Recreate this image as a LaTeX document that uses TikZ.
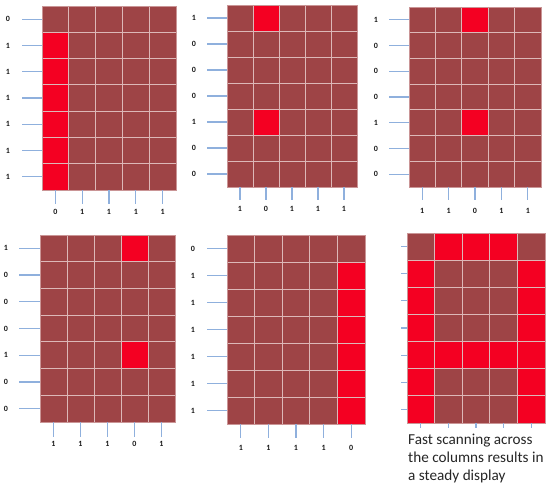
\documentclass[tikz,border=0pt]{standalone}
\usepackage{fontspec}
\setmainfont{Carlito}
\definecolor{dimred}{HTML}{9E4446}
\definecolor{litred}{HTML}{F40022}
\definecolor{gridcol}{HTML}{DDB8B8}
\definecolor{wirecol}{HTML}{8FB0DD}
\tikzset{
  gridline/.style={draw=gridcol, line width=0.9pt},
  wire/.style={draw=wirecol, line width=1.2pt},
  lab/.style={inner sep=0pt, font=\fontsize{8}{9}\selectfont\bfseries, text=black!90},
  caption/.style={inner sep=0pt, anchor=north west, align=left, font=\fontsize{15.2}{18}\selectfont, text=black!85}
}
% #1 L, #2 T, #3 R, #4 B, #5 lit cells col/row
\newcommand{\ledgrid}[5]{%
  \pgfmathsetmacro\cw{(#3-#1)/5}%
  \pgfmathsetmacro\ch{(#4-#2)/7}%
  \fill[dimred] (#1,#2) rectangle (#3,#4);
  \foreach \c/\r in {#5} \fill[litred] ({#1+(\c-1)*\cw},{#2+(\r-1)*\ch}) rectangle ++(\cw,\ch);
  \foreach \i in {1,...,4} \draw[gridline] ({#1+\i*\cw},#2) -- ({#1+\i*\cw},#4);
  \foreach \j in {1,...,6} \draw[gridline] (#1,{#2+\j*\ch}) -- (#3,{#2+\j*\ch});
  \draw[draw=gridcol!70!dimred, line width=0.6pt] (#1,#2) rectangle (#3,#4);
}
% #1 prefix, #2 L, #3 T, #4 B, #5 label x, #6 line start x, #7 labels
\newcommand{\rowlabels}[7]{%
  \pgfmathsetmacro\ch{(#4-#3)/7}%
  \foreach \v [count=\j] in {#7} {
    \coordinate (#1w\j) at (#6,{#3+(\j-0.5)*\ch});
    \coordinate (#1e\j) at (#2,{#3+(\j-0.5)*\ch});
    \draw[wire] (#1w\j) -- (#1e\j);
    \node[lab] (#1r\j) at (#5,{#3+(\j-0.5)*\ch}) {\v};
  }
}
% #1 prefix, #2 L, #3 R, #4 B, #5 tick end y, #6 label y, #7 labels
\newcommand{\collabels}[7]{%
  \pgfmathsetmacro\cw{(#3-#2)/5}%
  \foreach \v [count=\i] in {#7} {
    \coordinate (#1n\i) at ({#2+(\i-0.5)*\cw},#4);
    \coordinate (#1s\i) at ({#2+(\i-0.5)*\cw},#5);
    \draw[wire] (#1n\i) -- (#1s\i);
    \node[lab] (#1c\i) at ({#2+(\i-0.5)*\cw},#6) {\v};
  }
}
\newcommand{\colticks}[5]{%
  \pgfmathsetmacro\cw{(#3-#2)/5}%
  \foreach \i in {1,...,5} {
    \coordinate (#1n\i) at ({#2+(\i-0.5)*\cw},#4);
    \coordinate (#1s\i) at ({#2+(\i-0.5)*\cw},#5);
    \draw[wire] (#1n\i) -- (#1s\i);
  }
}
\newcommand{\rowticks}[5]{%
  \pgfmathsetmacro\ch{(#4-#3)/7}%
  \foreach \j in {1,...,7} {
    \coordinate (#1w\j) at (#5,{#3+(\j-0.5)*\ch});
    \coordinate (#1e\j) at (#2,{#3+(\j-0.5)*\ch});
    \draw[wire] (#1w\j) -- (#1e\j);
  }
}
\begin{document}
\begin{tikzpicture}[x=1pt,y=-1pt]
\useasboundingbox (0,0) rectangle (550,492);
\fill[white] (0,0) rectangle (550,492);
% Grid 1
\ledgrid{42}{6}{176}{190}{1/2,1/3,1/4,1/5,1/6,1/7}
\rowlabels{ga}{42}{6}{190}{8}{22}{0,1,1,1,1,1,1}
\collabels{ga}{42}{176}{190}{204}{212}{0,1,1,1,1}
% Grid 2
\ledgrid{227}{5}{357}{187}{2/1,2/5}
\rowlabels{gb}{227}{5}{187}{194}{207}{1,0,0,0,1,0,0}
\collabels{gb}{227}{357}{187}{200}{209}{1,0,1,1,1}
% Grid 3
\ledgrid{409}{7}{541}{187}{3/1,3/5}
\rowlabels{gc}{409}{7}{187}{376}{389}{1,0,0,0,1,0,0}
\collabels{gc}{409}{541}{187}{200}{211}{1,1,0,1,1}
% Grid 4
\ledgrid{40}{235}{175}{422}{4/1,4/5}
\rowlabels{gd}{40}{235}{422}{6}{19}{1,0,0,0,1,0,0}
\collabels{gd}{40}{175}{422}{437}{444}{1,1,1,0,1}
% Grid 5
\ledgrid{227}{235}{365}{424}{5/2,5/3,5/4,5/5,5/6,5/7}
\rowlabels{ge}{227}{235}{424}{193}{207}{0,1,1,1,1,1,1}
\collabels{ge}{227}{365}{424}{438}{448}{1,1,1,1,0}
% Grid 6
\ledgrid{407}{233}{545}{423}{2/1,3/1,4/1,1/2,5/2,1/3,5/3,1/4,5/4,1/5,2/5,3/5,4/5,5/5,1/6,5/6,1/7,5/7}
\rowticks{gf}{407}{233}{423}{401}
\colticks{gf}{407}{545}{423}{428}
\node[caption] (cap) at (408,434) {Fast scanning across\\the columns results in\\a steady display};
\end{tikzpicture}
\end{document}
